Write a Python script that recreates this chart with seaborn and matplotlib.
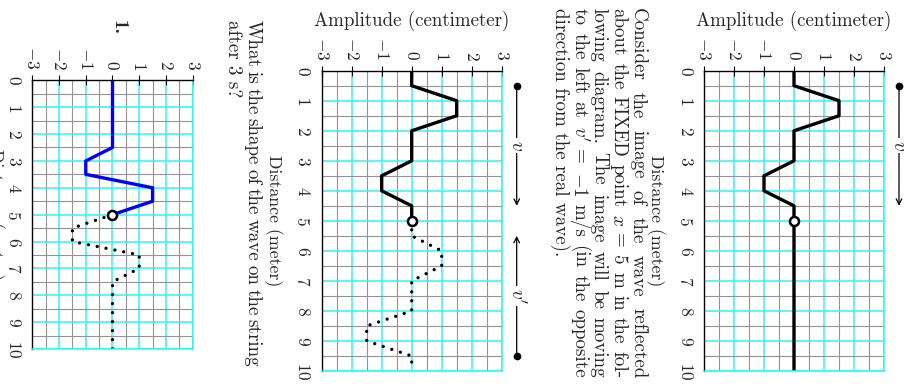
"""
Reflected wave on a string with a fixed end (rotated worksheet page).
"""
import numpy as np
import seaborn as sns
import matplotlib.pyplot as plt

W, H = 912, 385

# Wave at t = 0 (distance in meter, amplitude in centimeter).
wave_dist = [0, 0.5, 1, 1.5, 2, 3, 3.5, 4, 4.5, 5]
wave_amp = [0, 0, 1.5, 1.5, 0, 0, -1, -1, 0, 0]
# String at rest beyond the fixed point.
rest_dist = [5, 10]
rest_amp = [0, 0]
# Image of the wave reflected about the fixed point.
image_dist = [5, 5.5, 6, 6.5, 7, 8, 8.5, 9, 9.5, 10]
image_amp = [0, 0, 1, 1, 0, 0, -1.5, -1.5, 0, 0]
# Shape after 3 s.
later_dist = [0, 2.5, 3, 3.5, 4, 4.5, 5]
later_amp = [0, 0, -1, -1, 1.5, 1.5, 0]
later_image_dist = [5, 5.5, 6, 6.5, 7, 7.5, 10]
later_image_amp = [0, -1.5, -1.5, 1, 1, 0, 0]
fixed_dist = 5

amp_ticks = [-3, -2, -1, 0, 1, 2, 3]
dist_ticks = [0, 1, 2, 3, 4, 5, 6, 7, 8, 9, 10]

CYAN = "#30f4f4"
GRAY = "#939393"
BODY = 13.7
LABEL = 12.8
TICK = 12.5

sns.set_style("white")
plt.rcParams["font.family"] = ["cmr10", "DejaVu Serif"]
plt.rcParams["mathtext.fontset"] = "cm"
plt.rcParams["axes.formatter.use_mathtext"] = True

fig = plt.figure(figsize=(W / 100, H / 100), dpi=100)


def add_axes(left, top, right, bottom):
    return fig.add_axes([left / W, 1 - bottom / H,
                         (right - left) / W, (bottom - top) / H])


def setup(ax):
    ax.set_xlim(-3, 3)
    ax.set_ylim(10, 0)
    ax.set_xticks(amp_ticks, [f"${t}$" for t in amp_ticks])
    ax.set_yticks(dist_ticks, [f"${t}$" for t in dist_ticks])
    ax.set_xticks(np.arange(-2.5, 3, 1), minor=True)
    ax.set_yticks(np.arange(0.5, 10, 1), minor=True)
    ax.grid(which="minor", color=GRAY, lw=0.8)
    ax.grid(which="major", color=CYAN, lw=1.1)
    ax.set_axisbelow(True)
    ax.xaxis.tick_top()
    ax.tick_params(which="major", direction="inout", length=7, width=0.8,
                   color="black", labelsize=TICK, pad=4)
    ax.tick_params(which="minor", length=0)
    ax.tick_params(axis="both", labelrotation=-90)
    for lbl in ax.get_xticklabels():
        lbl.set_va("bottom")
        lbl.set_ha("center")
    for lbl in ax.get_yticklabels():
        lbl.set_va("center")
        lbl.set_ha("right")
    for side in ["top", "left"]:
        ax.spines[side].set_color("black")
        ax.spines[side].set_linewidth(1.0)
    for side in ["right", "bottom"]:
        ax.spines[side].set_color(CYAN)
        ax.spines[side].set_linewidth(1.1)
    ax.set_xlabel("")
    ax.set_ylabel("")


def curve(ax, amp, dist, color="black", dotted=False):
    kw = dict(linestyle=(0, (0.001, 2.7)), dash_capstyle="round") if dotted else {}
    sns.lineplot(x=amp, y=dist, sort=False, estimator=None, color=color,
                 lw=2.4, ax=ax, **kw)


def fixed(ax):
    ax.plot(0, fixed_dist, "o", mfc="white", mec="black", ms=6.5, mew=1.8,
            zorder=5)


def arrow(ax, start, end, label, mid):
    ax.annotate("", xy=(3.5, end), xytext=(3.5, start),
                arrowprops=dict(arrowstyle="->", lw=0.9, color="black",
                                shrinkA=0, shrinkB=0),
                annotation_clip=False)
    ax.plot(3.5, start, "o", color="black", ms=4.5, clip_on=False)
    ax.text(3.5, mid, label, rotation=-90, ha="center", va="center",
            fontsize=14, zorder=6,
            bbox=dict(fc="white", ec="none", pad=1.5))


def put(x, y, s, size, rot=-90, **kw):
    return fig.text(x / W, 1 - y / H, s, fontsize=size, rotation=rot,
                    rotation_mode="anchor", **kw)


def justify(x, y0, y1, line, size):
    words = line.split()
    texts = [put(x, y0, w, size, ha="left", va="baseline") for w in words]
    r = fig.canvas.get_renderer()
    lens = [t.get_window_extent(r).height for t in texts]
    gap = (y1 - y0 - sum(lens)) / (len(words) - 1)
    y = y0
    for t, n in zip(texts, lens):
        t.set_position((x / W, 1 - y / H))
        y += n + gap


# Plot 1: the wave travelling to the fixed point.
ax1 = add_axes(704, 70.7, 884, 371)
setup(ax1)
curve(ax1, wave_amp + rest_amp, wave_dist + rest_dist)
fixed(ax1)
arrow(ax1, 0.5, 4.5, "$v$", 2.5)
put(794, 26, "Amplitude (centimeter)", 13.6, rot=0, ha="center", va="baseline")
put(651, 220.8, "Distance (meter)", LABEL, ha="center", va="baseline")

# Plot 2: wave and its reflected image.
ax2 = add_axes(321.7, 70.7, 501.7, 371)
setup(ax2)
curve(ax2, wave_amp, wave_dist)
curve(ax2, image_amp, image_dist, dotted=True)
fixed(ax2)
arrow(ax2, 0.5, 4.5, "$v$", 2.5)
arrow(ax2, 9.5, 5.5, "$v'$", 7.5)
put(411.7, 26, "Amplitude (centimeter)", 13.6, rot=0, ha="center", va="baseline")
put(269, 220.8, "Distance (meter)", LABEL, ha="center", va="baseline")

# Plot 3: shape after 3 s.
ax3 = add_axes(32.3, 80.3, 192.7, 349)
setup(ax3)
curve(ax3, later_amp, later_dist, color="#0000ff")
curve(ax3, later_image_amp, later_image_dist, dotted=True)
fixed(ax3)
put(-9, 214.7, "Distance (meter)", LABEL, ha="center", va="baseline")
put(114, 20, "1.", BODY, ha="left", va="baseline", fontfamily="cmb10")

# Text of the worksheet.
body = ["Consider the image of the wave reflected",
        "about the FIXED point $x$ = 5 m in the fol-",
        "lowing diagram.  The image will be moving",
        "to the left at $v'$ = $-1$ m/s (in the opposite"]
for i, line in enumerate(body):
    justify(633 - 19.6 * i, 8, 378, line, BODY)
put(633 - 19.6 * 4, 8, "direction from the real wave).", BODY,
    ha="left", va="baseline")

justify(247.5, 20, 367, "What is the shape of the wave on the string", BODY)
put(228.5, 20, "after 3 s?", BODY, ha="left", va="baseline")

plt.savefig("out.png", dpi=100)
